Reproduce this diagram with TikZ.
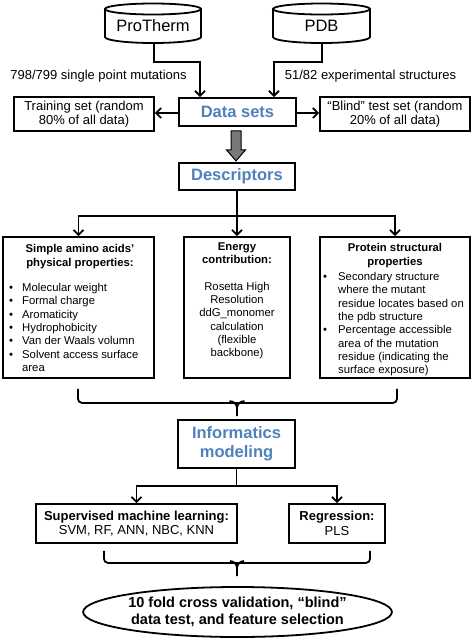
\documentclass[tikz,border=0pt]{standalone}
\usepackage{fontspec}
\setmainfont{Liberation Sans}
\usetikzlibrary{arrows.meta,calc,shapes.geometric}
\definecolor{tblue}{HTML}{4F81BD}
\newcommand\bul[1][13pt]{\llap{\makebox[#1][l]{\textbullet}}}
\begin{document}
\begin{tikzpicture}[x=1pt,y=-1pt,
  ln/.style={line width=1.8pt},
  box/.style={draw, line width=1.8pt, inner sep=0pt},
  conn/.style={line width=1.8pt, -{Straight Barb[length=5pt,width=10pt]}},
  bigt/.style={font=\fontsize{16.5}{19}\selectfont\bfseries, text=tblue, align=center},
  midt/.style={font=\fontsize{13}{14.7}\selectfont, align=center},
  smt/.style={font=\fontsize{11.3}{13.3}\selectfont},
  smtb/.style={font=\fontsize{11.3}{13.3}\selectfont\bfseries, align=center},
  garrow/.style={draw=black, line width=1pt, fill=gray!95!black, line join=miter}
]
\useasboundingbox (0,0) rectangle (474,641);
\fill[white] (0,0) rectangle (474,641);

% databases
\draw[ln] (153,9) ellipse[x radius=48, y radius=5.5];
\draw[ln] (105,9) -- (105,37) arc[start angle=180, end angle=0, x radius=48, y radius=6] -- (201,9);
\draw[ln] (321.5,9) ellipse[x radius=48.5, y radius=5.5];
\draw[ln] (273,9) -- (273,37) arc[start angle=180, end angle=0, x radius=48.5, y radius=6] -- (370,9);
\node[font=\fontsize{16.5}{19}\selectfont, inner sep=0pt] (pt) at (153,26) {ProTherm};
\node[font=\fontsize{16.5}{19}\selectfont, inner sep=0pt] (pdb) at (321.5,26) {PDB};
\coordinate (ptb) at (154,43);
\coordinate (pdbb) at (322,43);

% data sets row
\node[box, minimum width=117, minimum height=28, bigt] (ds) at (237.5,112) {Data sets};
\node[box, minimum width=140, minimum height=34, midt] (tr) at (84,114) {Training set (random\\80\% of all data)};
\node[box, minimum width=150, minimum height=34, midt] (bl) at (395,114) {“Blind” test set (random\\20\% of all data)};

\draw[conn] (ptb) -- ++(0,19) -| ($(ds.north west)+(22,0)$);
\draw[conn] (pdbb) -- ++(0,19) -| ($(ds.north east)+(-23,0)$);
\node[midt, inner sep=0pt] (l1) at (98.5,76) {798/799 single point mutations};
\node[midt, inner sep=0pt] (l2) at (370.5,76) {51/82 experimental structures};

\draw[conn] ($(ds.west)+(0,1)$) -- ($(ds.west -| tr.east)+(0,1)$);
\draw[conn] ($(ds.east)+(0,1)$) -- ($(ds.east -| bl.west)+(0,1)$);

% descriptors
\node[box, minimum width=116, minimum height=27, bigt] (desc) at (237,176.5) {Descriptors};
\draw[garrow] (ds.south) ++(-6.5,4) -- ++(10,0) -- ++(0,19) -- ++(4.5,0) -- ++(-9.5,11) -- ++(-9.5,-11) -- ++(4.5,0) -- cycle;

% three boxes
\node[box, minimum width=151, minimum height=141] (b1) at (78.5,307.5) {};
\node[box, minimum width=106, minimum height=141] (b2) at (237,307.5) {};
\node[box, minimum width=150, minimum height=141] (b3) at (395,307.5) {};

\draw[ln] (desc.south) -- ++(0,25) coordinate (j1);
\draw[conn] (j1) -| (b1.north);
\draw[conn] (j1) -- (b2.north);
\draw[conn] (j1) -| (b3.north);

\node[smtb, inner sep=0pt] (b1t) at (80,256.7) {Simple amino acids'\\physical properties:};
\node[smt, inner sep=0pt, anchor=north west, align=left] (b1b) at (22,283.3)
 {\bul Molecular weight\\\bul Formal charge\\\bul Aromaticity\\\bul Hydrophobicity\\\bul Van der Waals volumn\\\bul Solvent access surface\\area};

\node[smtb, inner sep=0pt] (b2t) at (237,253.3) {Energy\\contribution:};
\node[smt, inner sep=0pt, align=center] (b2b) at (237,320.5) {Rosetta High\\Resolution\\ddG\_monomer\\calculation\\(flexible\\backbone)};

\node[smtb, inner sep=0pt] (b3t) at (395,255.5) {Protein structural\\properties};
\node[smt, inner sep=0pt, anchor=north west, align=left] (b3b) at (338,272.3)
 {\bul[15pt]Secondary structure\\where the mutant\\residue locates based on\\the pdb structure\\\bul[15pt]Percentage accessible\\area of the mutation\\residue (indicating the\\surface exposure)};

% informatics
\node[box, minimum width=117, minimum height=48, bigt] (inf) at (236.5,444) {Informatics\\modeling};
\draw[ln, rounded corners=4] ($(b1.south)+(-0.5,10)$) |- ($(b3.south)+(2,24)$) -- ($(b3.south)+(2,10)$);
\draw[ln] ($(inf.north)+(-7,-18)$) to[out=0,in=90] ($(inf.north)+(0.5,-11)$) -- ($(inf.north)+(0.5,-3)$);
\draw[ln] ($(inf.north)+(8,-18)$) to[out=180,in=90] ($(inf.north)+(0.5,-11)$);

% learning boxes
\node[box, minimum width=201, minimum height=39, midt] (sv) at (136.5,523.5) {\textbf{Supervised machine learning:}\\SVM, RF, ANN, NBC, KNN};
\node[box, minimum width=96, minimum height=39, midt] (rg) at (337,523.5) {\textbf{Regression:}\\PLS};
\draw[ln] (inf.south) -- ++(0,17) coordinate (j2);
\draw[conn] (j2) -| (sv.north);
\draw[conn] (j2) -| (rg.north);

% final
\node[draw, ellipse, line width=1.8pt, inner sep=0pt, minimum width=285, minimum height=50,
  font=\fontsize{14.5}{17.7}\selectfont\bfseries, align=center] (fin) at (237.5,612)
  {10 fold cross validation, “blind”\\data test, and feature selection};
\draw[ln, rounded corners=4] ($(sv.south)+(-32.5,7)$) |- ($(rg.south)+(33,19)$) -- ($(rg.south)+(33,7)$);
\draw[ln] ($(fin.north)+(-7.5,-25)$) to[out=0,in=90] ($(fin.north)+(-0.5,-18)$) -- ($(fin.north)+(-0.5,-10)$);
\draw[ln] ($(fin.north)+(6.5,-25)$) to[out=180,in=90] ($(fin.north)+(-0.5,-18)$);
\end{tikzpicture}
\end{document}
